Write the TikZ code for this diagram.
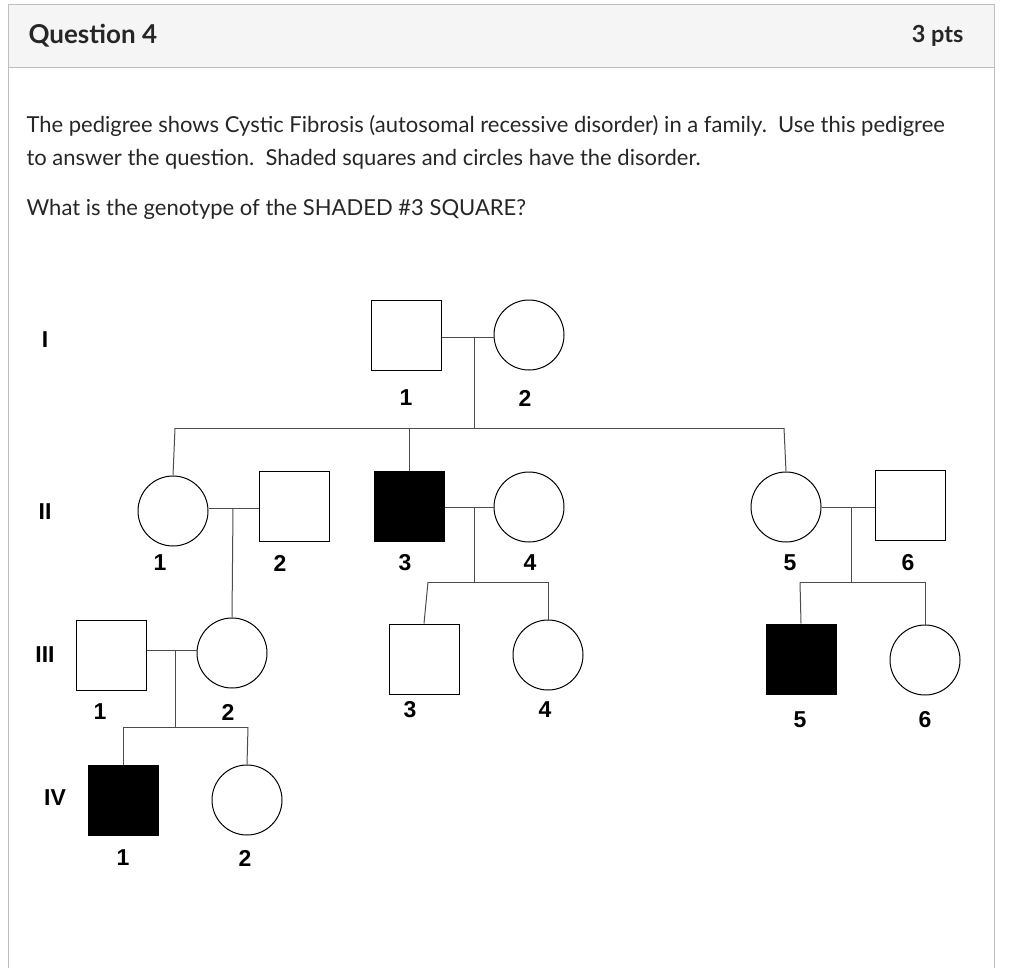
\documentclass[tikz,border=0pt]{standalone}
\usepackage{fontspec}
\setmainfont{Lato}
\newfontfamily\arialb{Liberation Sans}
\begin{document}
\begin{tikzpicture}[x=1pt,y=-1pt,
  sq/.style={draw,line width=1pt,minimum size=70pt,inner sep=0pt},
  aff/.style={sq,fill=black},
  ci/.style={draw,circle,line width=1pt,minimum size=70pt,inner sep=0pt},
  ln/.style={line width=1pt,draw=black!70},
  lab/.style={font=\arialb\bfseries\fontsize{23}{25}\selectfont},
  txt/.style={anchor=west,font=\fontsize{22}{26}\selectfont,text=black!85}]
\useasboundingbox (0,0) rectangle (1024,968);
\fill[black!4] (8,5) rectangle (994,68);
\draw[black!25,line width=1pt] (8,968) -- (8,5) -- (994,5) -- (994,968);
\draw[black!25,line width=1pt] (8,68) -- (994,68);
\node[anchor=west,font=\bfseries\fontsize{26}{30}\selectfont,text=black!85] (q) at (25,36) {Question 4};
\node[anchor=east,font=\bfseries\fontsize{23.5}{26}\selectfont,text=black!85] (p) at (967,36) {3 pts};
\node[txt] (t1) at (23,126) {The pedigree shows Cystic Fibrosis (autosomal recessive disorder) in a family.\ \ Use this pedigree};
\node[txt] (t2) at (23,159) {to answer the question.\ \ Shaded squares and circles have the disorder.};
\node[txt] (t3) at (23,209) {What is the genotype of the SHADED \#3 SQUARE?};
% roman numerals
\node[lab] (rI) at (45,340) {I};
\node[lab] (rII) at (45,512) {II};
\node[lab] (rIII) at (45,655) {III};
\node[lab] (rIV) at (55,798) {IV};
% gen I
\node[sq] (a1) at (406,335) {};
\node[ci] (a2) at (529,335) {};
% gen II
\node[ci] (b1) at (173,511) {};
\node[sq] (b2) at (294,506) {};
\node[aff] (b3) at (409,506) {};
\node[ci] (b4) at (529,507) {};
\node[ci] (b5) at (786,507) {};
\node[sq] (b6) at (910,505) {};
% gen III
\node[sq] (c1) at (111,655) {};
\node[ci] (c2) at (232,653) {};
\node[sq] (c3) at (424,659) {};
\node[ci] (c4) at (548,655) {};
\node[aff] (c5) at (801,659) {};
\node[ci] (c6) at (925,660) {};
% gen IV
\node[aff] (d1) at (123,800) {};
\node[ci] (d2) at (247,800) {};
% lines
\coordinate (m1) at (474,337);
\draw[ln] (a1.east|-m1) -- (a2.west|-m1);
\draw[ln] (m1) -- (474,428);
\draw[ln] (175,428) -- (784,428);
\draw[ln] (175,428) -- (b1.north);
\draw[ln] (409,428) -- (b3.north);
\draw[ln] (784,428) -- (b5.north);
\draw[ln] (b1.east|-0,508) -- (b2.west|-0,508);
\draw[ln] (233,508) -- (c2.north);
\draw[ln] (b3.east|-0,507) -- (b4.west|-0,507);
\draw[ln] (474,507) -- (474,582);
\draw[ln] (428,582) -- (548,582);
\draw[ln] (428,582) -- (c3.north);
\draw[ln] (548,582) -- (c4.north);
\draw[ln] (b5.east|-0,507) -- (b6.west|-0,507);
\draw[ln] (851,507) -- (851,582);
\draw[ln] (800,582) -- (925,582);
\draw[ln] (800,582) -- (c5.north);
\draw[ln] (925,582) -- (c6.north);
\draw[ln] (c1.east|-0,650) -- (c2.west|-0,650);
\draw[ln] (175,650) -- (175,727);
\draw[ln] (123,727) -- (248,727);
\draw[ln] (123,727) -- (d1.north);
\draw[ln] (248,727) -- (d2.north);
% labels
\node[lab] (la1) at (406,398) {1};
\node[lab] (la2) at (525,398) {2};
\node[lab] (lb1) at (160,563) {1};
\node[lab] (lb2) at (280,563) {2};
\node[lab] (lb3) at (405,563) {3};
\node[lab] (lb4) at (530,563) {4};
\node[lab] (lb5) at (790,563) {5};
\node[lab] (lb6) at (908,563) {6};
\node[lab] (lc1) at (100,712) {1};
\node[lab] (lc2) at (228,712) {2};
\node[lab] (lc3) at (410,710) {3};
\node[lab] (lc4) at (545,710) {4};
\node[lab] (lc5) at (800,720) {5};
\node[lab] (lc6) at (925,720) {6};
\node[lab] (ld1) at (123,858) {1};
\node[lab] (ld2) at (245,858) {2};
\end{tikzpicture}
\end{document}
